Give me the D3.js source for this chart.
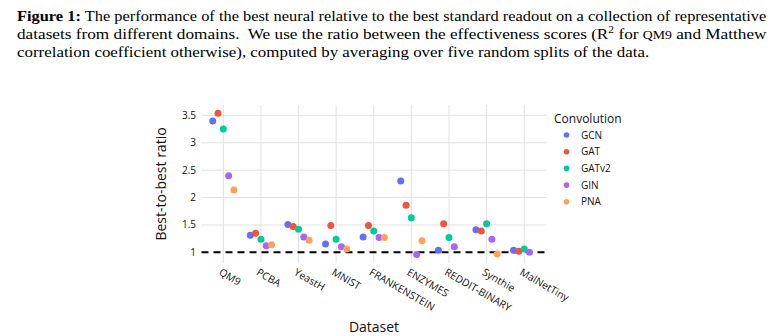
<!DOCTYPE html>
<html>
<head>
<meta charset="utf-8">
<script src="https://cdn.jsdelivr.net/npm/d3@7"></script>
<style>
  html, body { margin: 0; padding: 0; background: #fff; }
  svg { display: block; }
  .caption { font-family: "Liberation Serif", "Times New Roman", serif; font-size: 15px; fill: #000; }
  .chart text { font-family: "Open Sans", "Noto Sans", sans-serif; fill: #111; }
</style>
</head>
<body>
<svg id="fig" width="780" height="336"></svg>
<script>
// datasets on the x axis
const datasets = ['QM9', 'PCBA', 'YeastH', 'MNIST', 'FRANKENSTEIN', 'ENZYMES', 'REDDIT-BINARY', 'Synthie', 'MalNetTiny'];

// best neural / best standard readout ratio per convolution
const convolutions = ['GCN', 'GAT', 'GATv2', 'GIN', 'PNA'];
const gcn   = [3.40, 1.31, 1.51, 1.15, 1.28, 2.30, 1.04, 1.41, 1.04];
const gat   = [3.54, 1.35, 1.47, 1.49, 1.49, 1.86, 1.52, 1.39, 1.02];
const gatv2 = [3.25, 1.24, 1.42, 1.24, 1.39, 1.63, 1.27, 1.52, 1.06];
const gin   = [2.40, 1.12, 1.28, 1.10, 1.27, 0.96, 1.10, 1.24, 1.00];
const pna   = [2.14, 1.14, 1.22, 1.06, 1.27, 1.21, null, 0.97, null];

const yTicks = [1, 1.5, 2, 2.5, 3, 3.5];
const colors = ['#636efa', '#ef553b', '#00cc96', '#ab63fa', '#ffa15a'];

const series = [gcn, gat, gatv2, gin, pna];

const svg = d3.select('#fig');

// ---- caption ----
const captionLines = [
  { y: 20.5, right: 767, parts: [
    { t: 'Figure 1:', bold: true },
    { t: ' The performance of the best neural relative to the best standard readout on a collection of representative' }
  ] },
  { y: 38.5, right: 767, parts: [
    { t: 'datasets from different domains.  We use the ratio between the effectiveness scores (R' },
    { t: '2', sup: true },
    { t: ' for ' },
    { t: 'QM9', small: true },
    { t: ' and Matthew' }
  ] },
  { y: 56.5, right: 650, parts: [
    { t: 'correlation coefficient otherwise), computed by averaging over five random splits of the data.' }
  ] }
];

const capLeft = 17;
captionLines.forEach(line => {
  const g = svg.append('g');
  const text = g.append('text').attr('class', 'caption').attr('x', 0).attr('y', 0)
    .attr('xml:space', 'preserve').style('white-space', 'pre');
  line.parts.forEach((p, i) => {
    const ts = text.append('tspan').text(p.t);
    if (p.bold) ts.attr('font-weight', 'bold');
    if (p.sup) ts.attr('font-size', 10).attr('dy', -6);
    if (p.small) ts.attr('font-size', 12);
    // back to the baseline after a superscript
    if (i > 0 && line.parts[i - 1].sup) ts.attr('dy', 6);
  });
  // squeeze each line to the column width
  const w = text.node().getComputedTextLength();
  const k = (line.right - capLeft) / w;
  g.attr('transform', `translate(${capLeft},${line.y}) scale(${k},1)`);
});

// ---- chart ----
const chart = svg.append('g').attr('class', 'chart');
const plot = { left: 201.5, right: 546.5, top: 105, bottom: 263 };

const x = d3.scaleBand().domain(datasets).range([204.5, 543]);
const y = d3.scaleLinear().domain([0.805, 3.69]).range([plot.bottom, plot.top]);
const step = x.bandwidth() * 0.141;
const cx = d => x(d) + x.bandwidth() / 2;

// grid
chart.append('g').selectAll('line').data(yTicks.slice(1)).join('line')
  .attr('x1', plot.left).attr('x2', plot.right)
  .attr('y1', d => y(d)).attr('y2', d => y(d))
  .attr('stroke', '#e2e2e2').attr('stroke-width', 1);

chart.append('g').selectAll('line').data(datasets).join('line')
  .attr('x1', d => cx(d)).attr('x2', d => cx(d))
  .attr('y1', plot.top).attr('y2', plot.bottom)
  .attr('stroke', '#e2e2e2').attr('stroke-width', 1);

// y tick labels
chart.append('g').selectAll('text').data(yTicks).join('text')
  .attr('x', 196).attr('y', d => y(d)).attr('dy', '0.35em')
  .attr('text-anchor', 'end').attr('font-size', 10)
  .text(d => d);

// x tick labels, rotated
chart.append('g').selectAll('text').data(datasets).join('text')
  .attr('transform', d => `translate(${cx(d) - 1.5},${plot.bottom + 5}) rotate(30)`)
  .attr('dy', '0.71em').attr('font-size', 10.3)
  .text(d => d);

// reference line at ratio 1
chart.append('line')
  .attr('x1', plot.left).attr('x2', plot.right)
  .attr('y1', y(1)).attr('y2', y(1))
  .attr('stroke', '#000').attr('stroke-width', 2)
  .attr('stroke-dasharray', '7,5');

// points
series.forEach((vals, si) => {
  const pts = vals.map((v, i) => ({ ds: datasets[i], v })).filter(p => p.v != null);
  chart.append('g').selectAll('circle').data(pts).join('circle')
    .attr('cx', p => cx(p.ds) + (si - 2) * step)
    .attr('cy', p => y(p.v))
    .attr('r', 3.5)
    .attr('fill', colors[si]);
});

// axis titles
chart.append('text')
  .attr('transform', `translate(166,${(plot.top + plot.bottom) / 2}) rotate(-90)`)
  .attr('text-anchor', 'middle').attr('font-size', 14)
  .text('Best-to-best ratio');

chart.append('text')
  .attr('x', (plot.left + plot.right) / 2).attr('y', 332)
  .attr('text-anchor', 'middle').attr('font-size', 14)
  .text('Dataset');

// legend
const legend = chart.append('g').attr('transform', 'translate(554,0)');
legend.append('text').attr('x', 0).attr('y', 123).attr('font-size', 12).text('Convolution');
const items = legend.selectAll('g').data(convolutions).join('g')
  .attr('transform', (d, i) => `translate(0,${135 + i * 16.7})`);
items.append('circle').attr('cx', 12.5).attr('cy', 0).attr('r', 2.8)
  .attr('fill', (d, i) => colors[i]);
items.append('text').attr('x', 27).attr('dy', '0.35em').attr('font-size', 10).text(d => d);
</script>
</body>
</html>
